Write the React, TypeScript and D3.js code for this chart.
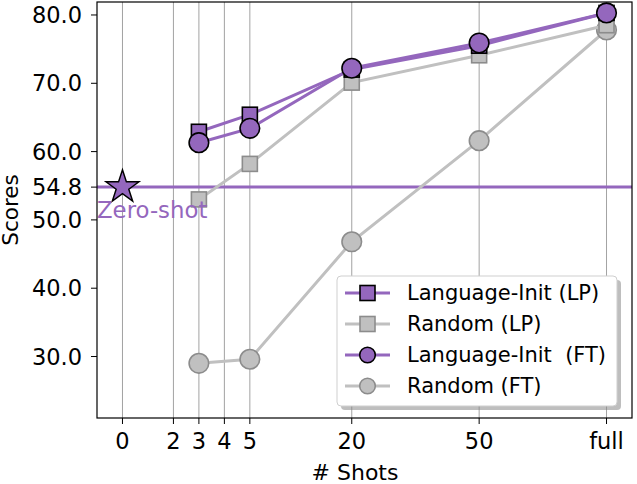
import React from "react";
import * as d3 from "d3";

const tickLabels = ["0", "2", "3", "4", "5", "20", "50", "full"];
const tickPos = [0, 2, 3, 4, 5, 9, 14, 19];
const dataShots = ["3", "5", "20", "50", "full"];
const langLP = [62.9, 65.4, 72.0, 75.5, 80.3];
const randLP = [53.0, 58.2, 70.1, 74.1, 78.5];
const langFT = [61.3, 63.4, 72.2, 75.9, 80.3];
const randFT = [29.0, 29.6, 46.8, 61.6, 77.8];
const zeroShot = 54.8;
const yTicks = [30, 40, 50, 54.8, 60, 70, 80];

const PURPLE = "#9467bd";
const SILVER = "#c0c0c0";
const GRAYEDGE = "#8c8c8c";
const FONT = "DejaVu Sans";

const W = 637, H = 484;
const L = 97, R = 632, T = 2, B = 418;

export default function App() {
  const x = d3.scaleLinear().domain([-1, 20]).range([L, R]);
  const y = d3.scaleLinear().domain([21.0, 81.9]).range([B, T]);
  const posOf = (s: string) => tickPos[tickLabels.indexOf(s)];
  const line = d3
    .line<number>()
    .x((_, i) => x(posOf(dataShots[i])))
    .y((d) => y(d));

  const star = d3.symbol().type(d3.symbolStar).size(200)();

  const series = [
    { name: "Random (FT)", vals: randFT, color: SILVER, edge: GRAYEDGE, shape: "circle" },
    { name: "Random (LP)", vals: randLP, color: SILVER, edge: GRAYEDGE, shape: "square" },
    { name: "Language-Init (LP)", vals: langLP, color: PURPLE, edge: "#000", shape: "square" },
    { name: "Language-Init  (FT)", vals: langFT, color: PURPLE, edge: "#000", shape: "circle" },
  ];
  const legendOrder = [2, 1, 3, 0];

  const marker = (shape: string, cx: number, cy: number, fill: string, edge: string, r: number, key?: any) =>
    shape === "circle" ? (
      <circle key={key} cx={cx} cy={cy} r={r} fill={fill} stroke={edge} strokeWidth={1.6} />
    ) : (
      <rect key={key} x={cx - 7.5} y={cy - 7.5} width={15} height={15} fill={fill} stroke={edge} strokeWidth={1.6} />
    );

  return (
    <svg width={W} height={H} style={{ position: "absolute", left: 0, top: 0 }} fontFamily={FONT}>
      <rect x={0} y={0} width={W} height={H} fill="#fff" />
      {/* grid */}
      {tickPos.map((p, i) => (
        <line key={"g" + i} x1={x(p)} x2={x(p)} y1={T} y2={B} stroke="#8a8a8a" strokeWidth={0.8} />
      ))}
      {/* zero-shot line */}
      <line x1={L} x2={R} y1={y(zeroShot)} y2={y(zeroShot)} stroke={PURPLE} strokeWidth={3} />
      {series.map((s, si) => (
        <g key={"s" + si}>
          <path d={line(s.vals) || ""} fill="none" stroke={s.color} strokeWidth={3} />
          {s.vals.map((v, i) =>
            marker(s.shape, x(posOf(dataShots[i])), y(v), s.color, s.edge, 9.8, i)
          )}
        </g>
      ))}
      <path d={star} transform={`translate(${x(0)},${y(zeroShot)}) scale(1.3)`} fill={PURPLE} stroke="#000" strokeWidth={1.1} />
      <text x={97} y={218} fontSize={22.8} fill={PURPLE}>Zero-shot</text>
      {/* spines */}
      <rect x={L} y={T} width={R - L} height={B - T} fill="none" stroke="#000" strokeWidth={1.2} />
      {/* x ticks */}
      {tickPos.map((p, i) => (
        <g key={"xt" + i}>
          <line x1={x(p)} x2={x(p)} y1={B} y2={B + 6} stroke="#000" strokeWidth={1} />
          <text x={x(p)} y={449} fontSize={22.5} textAnchor="middle">{tickLabels[i]}</text>
        </g>
      ))}
      {/* y ticks */}
      {yTicks.map((t, i) => (
        <g key={"yt" + i}>
          <line x1={L - 6} x2={L} y1={y(t)} y2={y(t)} stroke="#000" strokeWidth={1} />
          <text x={82} y={y(t)} fontSize={22.5} textAnchor="end" dominantBaseline="central">{t.toFixed(1)}</text>
        </g>
      ))}
      <text x={355} y={480} fontSize={22} textAnchor="middle"># Shots</text>
      <text transform={`translate(18,210) rotate(-90)`} fontSize={21.5} textAnchor="middle">Scores</text>
      {/* legend */}
      <g>
        <rect x={341} y={280} width={280} height={130} rx={4} fill="#888" opacity={0.55} />
        <rect x={337} y={276} width={280} height={130} rx={4} fill="#fff" stroke="#cfcfcf" strokeWidth={1} />
        {legendOrder.map((si, k) => {
          const s = series[si];
          const cy = 293 + k * 31;
          return (
            <g key={"l" + k}>
              <line x1={345} x2={390} y1={cy} y2={cy} stroke={s.color} strokeWidth={3} />
              {marker(s.shape, 367.5, cy, s.color, s.edge, 7.8)}
              <text x={407} y={cy} fontSize={21} dominantBaseline="central" style={{ whiteSpace: "pre" }}>{s.name}</text>
            </g>
          );
        })}
      </g>
    </svg>
  );
}
